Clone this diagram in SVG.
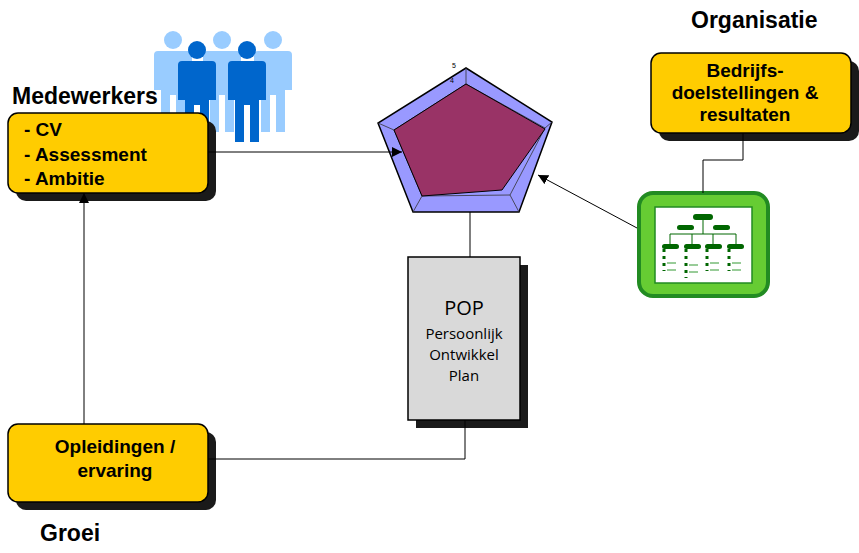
<svg xmlns="http://www.w3.org/2000/svg" width="859" height="553" viewBox="0 0 859 553">
<defs>
<style>
.box{fill:#ffcc00;stroke:#000;stroke-width:1.5}
.sh{fill:#1a1a1a}
.t{font-family:"Liberation Sans",Arial,sans-serif;font-weight:bold;font-size:19px;fill:#000}
.h{font-family:"Liberation Sans",Arial,sans-serif;font-weight:bold;font-size:23px;fill:#000}
.c{fill:none;stroke:#000;stroke-width:1}
.lp{fill:#99ccff}.dp{fill:#0066cc}
.g{fill:#006600}
</style>
<marker id="a" viewBox="0 0 10 10" refX="10" refY="5" markerWidth="10" markerHeight="10" orient="auto" markerUnits="userSpaceOnUse"><path d="M0,0L10,5L0,10z" fill="#000"/></marker>
<g id="fig"><circle cx="0" cy="0" r="9"/><path d="M-15,11H15a4,4 0 0 1 4,4V50H12V92H3V55H-3V92H-12V50H-19V15a4,4 0 0 1 4-4z"/></g>
</defs>
<rect width="859" height="553" fill="#fff"/>
<g id="people">
<use href="#fig" x="173" y="40" class="lp"/>
<use href="#fig" x="222" y="40" class="lp"/>
<use href="#fig" x="273" y="40" class="lp"/>
<use href="#fig" x="197" y="50" class="dp"/>
<use href="#fig" x="247" y="50" class="dp"/>
</g>
<g id="medewerkers">
<text class="h" x="12" y="104">Medewerkers</text>
<rect class="sh" x="16" y="121" width="200" height="80" rx="10"/>
<rect class="box" x="8" y="113" width="200" height="80" rx="10"/>
<text class="t" x="24" y="136">- CV</text>
<text class="t" x="24" y="161">- Assessment</text>
<text class="t" x="24" y="185">- Ambitie</text>
</g>
<g id="organisatie">
<text class="h" x="691" y="28">Organisatie</text>
<rect class="sh" x="659" y="61" width="200" height="80" rx="10"/>
<rect class="box" x="651" y="53" width="200" height="80" rx="10"/>
<text class="t" x="745" y="77" text-anchor="middle">Bedrijfs-</text>
<text class="t" x="745" y="99" text-anchor="middle">doelstellingen &amp;</text>
<text class="t" x="745" y="121" text-anchor="middle">resultaten</text>
</g>
<g id="groei">
<rect class="sh" x="16" y="432" width="200" height="78" rx="10"/>
<rect class="box" x="8" y="424" width="200" height="78" rx="10"/>
<text class="t" x="115" y="453" text-anchor="middle">Opleidingen /</text>
<text class="t" x="115" y="477" text-anchor="middle">ervaring</text>
<text class="h" x="40" y="541">Groei</text>
</g>
<g id="pentagon">
<polygon points="466,68 552,122 519,212 413,212 378,123" fill="#9999ff" stroke="#000" stroke-width="1.5"/>
<polygon points="466,84 545,128 510,195 422,196 394,130" fill="#9999ff" stroke="#333" stroke-width="0.8"/>
<path d="M466,68V84M552,122L545,128M519,212L510,195M413,212L422,196M378,123L394,130" stroke="#333" stroke-width="0.8"/>
<polygon points="466,84 545,129 502,190 422,196 394,130" fill="#993366" stroke="#000" stroke-width="1"/>
<text x="452" y="68" font-family="Liberation Sans,Arial,sans-serif" font-size="7">5</text>
<text x="450" y="83" font-family="Liberation Sans,Arial,sans-serif" font-size="7">4</text>
</g>
<g id="pop">
<rect class="sh" x="416" y="265" width="112" height="163"/>
<rect x="408" y="257" width="112" height="163" fill="#d9d9d9" stroke="#000" stroke-width="1.5"/>
<text x="464" y="315" text-anchor="middle" font-family="Open Sans,Liberation Sans,sans-serif" font-size="20">POP</text>
<text x="464" y="339" text-anchor="middle" font-family="Open Sans,Liberation Sans,sans-serif" font-size="15">Persoonlijk</text>
<text x="464" y="360" text-anchor="middle" font-family="Open Sans,Liberation Sans,sans-serif" font-size="15">Ontwikkel</text>
<text x="464" y="381" text-anchor="middle" font-family="Open Sans,Liberation Sans,sans-serif" font-size="15">Plan</text>
</g>
<g id="orgchart">
<rect x="639" y="193" width="129" height="103" rx="14" fill="#66cc33" stroke="#228b22" stroke-width="4"/>
<rect x="655" y="207" width="97" height="76" fill="#fff" stroke="#228b22" stroke-width="1.5"/>
<rect class="g" x="693" y="214" width="20" height="6" rx="3"/>
<rect class="g" x="677" y="225" width="17" height="5" rx="2.5"/>
<rect class="g" x="713" y="225" width="17" height="5" rx="2.5"/>
<path d="M703,220V234M670,234H736M670,234V245M692,234V245M713,234V245M736,234V245" stroke="#006600" stroke-width="1"/>
<rect class="g" x="662" y="244" width="17" height="5" rx="2.5"/>
<rect class="g" x="684" y="244" width="17" height="5" rx="2.5"/>
<rect class="g" x="705" y="244" width="17" height="5" rx="2.5"/>
<rect class="g" x="727" y="244" width="17" height="5" rx="2.5"/>
<path d="M664,249V271M686,249V278M707,249V271M729,249V271" stroke="#006600" stroke-width="3" stroke-dasharray="3,4"/>
<path d="M667,263H676M667,270H676M689,265H698M689,272H698M710,263H719M710,270H719M732,263H741M732,270H741" stroke="#339933" stroke-width="1"/>
</g>
<g id="connectors">
<path class="c" d="M208,152H402" marker-end="url(#a)"/>
<path class="c" d="M637,228L538,175" marker-end="url(#a)"/>
<path class="c" d="M743,133V160H703V193"/>
<path class="c" d="M470,212V257"/>
<path class="c" d="M208,459H465V420"/>
<path class="c" d="M84,424V193" marker-end="url(#a)"/>
</g>
</svg>
